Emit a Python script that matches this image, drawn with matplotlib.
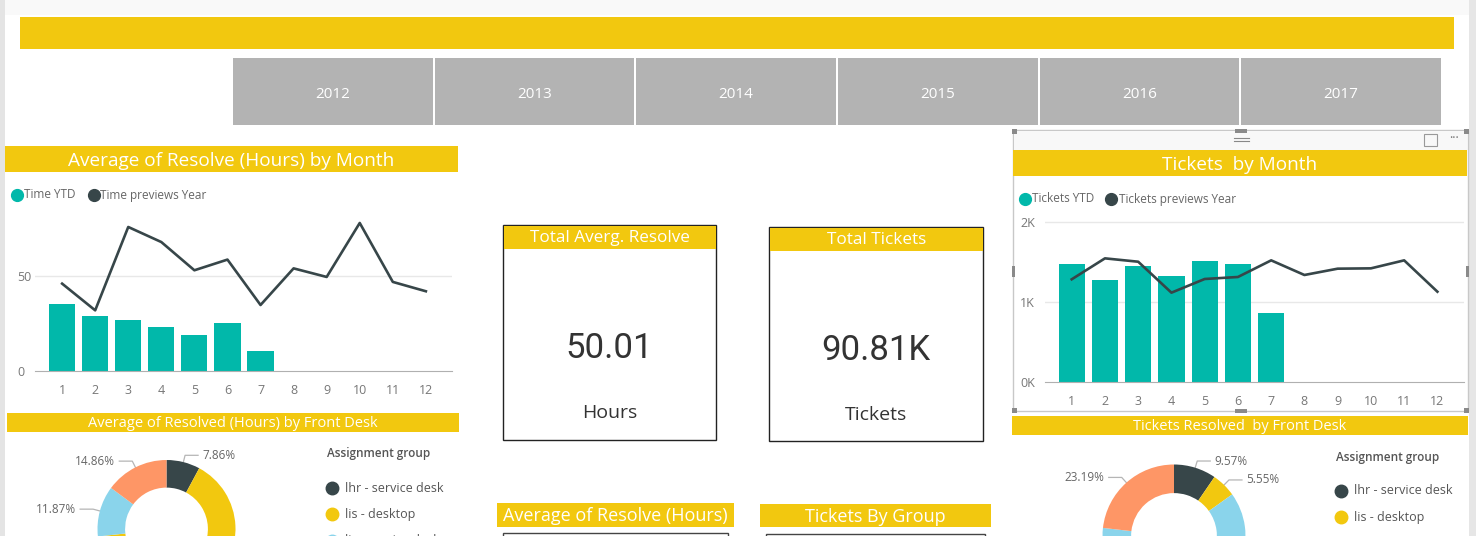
import numpy as np
import matplotlib
matplotlib.use("Agg")
from matplotlib import pyplot as plt
from matplotlib.patches import Rectangle

plt.rcParams['font.family'] = ['Open Sans', 'DejaVu Sans']

# data
years = ['2012', '2013', '2014', '2015', '2016', '2017']
months = list(range(1, 13))
resolve_ytd = [35.3, 28.7, 26.6, 23.1, 18.7, 25.2, 10.5]
resolve_prev = [45.8, 31.8, 75.5, 67.6, 52.8, 58.4, 34.6, 53.8, 49.3, 77.6, 46.7, 41.8]
tickets_ytd = [1471, 1271, 1446, 1321, 1513, 1471, 855]
tickets_prev = [1280, 1542, 1500, 1113, 1284, 1309, 1517, 1334, 1413, 1417, 1517, 1125]
groups = ['lhr - service desk', 'lis - desktop', 'lis - service desk', 'lhr - desktop']
hours_share = [7.86, 65.41, 11.87, 14.86]
tickets_share = [9.57, 5.55, 61.69, 23.19]
total_avg_resolve = '50.01'
total_tickets = '90.81K'

YELLOW = '#F2C80F'
TEAL = '#01B8AA'
DARK = '#374649'
LBLUE = '#8AD4EB'
ORANGE = '#FE9666'
pie_colors = [DARK, YELLOW, LBLUE, ORANGE]

W, H = 1476, 536
fig = plt.figure(figsize=(W / 100, H / 100), dpi=100)
fig.patch.set_facecolor('white')


def px_axes(x0, y0, x1, y1):
    a = fig.add_axes([x0 / W, 1 - y1 / H, (x1 - x0) / W, (y1 - y0) / H])
    a.patch.set_alpha(0)
    return a


# background layer in pixel coords
bg = fig.add_axes([0, 0, 1, 1])
bg.set_xlim(0, W)
bg.set_ylim(H, 0)
bg.axis('off')


def rect(x0, y0, x1, y1, **kw):
    bg.add_patch(Rectangle((x0, y0), x1 - x0, y1 - y0, **kw))


def bar_title(x0, y0, x1, y1, txt, size, dy=1):
    rect(x0, y0, x1, y1, facecolor=YELLOW, edgecolor='none')
    bg.text((x0 + x1) / 2, (y0 + y1) / 2 + dy, txt, color='white', fontsize=size,
            ha='center', va='center')


rect(0, 0, W, 15, facecolor='#f9f9f9', edgecolor='none')
rect(0, 0, 5, H, facecolor='#e4e4e4', edgecolor='none')
rect(1469, 0, W, H, facecolor='#e6e6e6', edgecolor='none')

# header banner + year slicer
rect(20, 17, 1454, 49, facecolor=YELLOW, edgecolor='none')
slot_w = (1442 - 232) / len(years)
for i, yr in enumerate(years):
    x0 = 232 + i * slot_w
    rect(x0 + 1, 58, x0 + slot_w - 1, 125, facecolor='#B3B3B3', edgecolor='none')
    bg.text(x0 + slot_w / 2, 94, yr, color='white', fontsize=11,
            ha='center', va='center')


def legend_row(y, entries):
    for cx, tx, col, lab in entries:
        bg.plot(cx, y, 'o', ms=8.5, color=col)
        bg.text(tx, y, lab, fontsize=8.5, color='#666666', ha='left', va='center')


def month_chart(box, ytd, prev, ylim, yticks, ylabels, xlim, ypad):
    a = px_axes(*box)
    a.bar(months[:len(ytd)], ytd, width=0.79, color=TEAL, zorder=2)
    a.plot(months, prev, color=DARK, lw=1.9, zorder=3)
    a.set_xlim(*xlim)
    a.set_ylim(*ylim)
    for yt in yticks[1:]:
        a.axhline(yt, color='#e8e8e8', lw=1, zorder=0)
    a.set_xticks(months)
    a.set_yticks(yticks)
    a.set_yticklabels(ylabels)
    for s in ['top', 'right', 'left']:
        a.spines[s].set_visible(False)
    a.spines['bottom'].set_color('#b0b0b0')
    a.tick_params(length=0, labelsize=9, labelcolor='#777777')
    a.tick_params(axis='x', pad=9.5)
    a.tick_params(axis='y', pad=ypad)
    for lab in a.get_yticklabels():
        lab.set_horizontalalignment('left')
    return a


# left: average resolve by month
bar_title(5, 146, 458, 172, 'Average of Resolve (Hours) by Month', 13.7, dy=2)
legend_row(195, [(17, 24, TEAL, 'Time YTD'), (94, 100, DARK, 'Time previews Year')])
month_chart((35, 210, 452, 371), resolve_ytd, resolve_prev, (0, 84.4), [0, 50],
            ['0', '50'], (0.18, 12.79), 13)

# right: tickets by month (selected visual)
rect(1013, 130, 1468, 411, facecolor='white', edgecolor='#c8c8c8', lw=1)
rect(1014, 131, 1467, 150, facecolor='#f8f8f8', edgecolor='none')
bg.plot([1234, 1249], [138, 138], color='#888888', lw=0.8)
bg.plot([1234, 1249], [141, 141], color='#888888', lw=0.8)
rect(1424, 134, 1437, 146, facecolor='none', edgecolor='#999999', lw=0.8)
bg.text(1454, 139, '···', fontsize=9, color='#777777', ha='center', va='center')
for hx, hy, hw, hh in [(1012, 129, 5, 5), (1235, 129, 12, 4), (1464, 129, 5, 5),
                       (1012, 266, 3, 11), (1466, 266, 3, 11),
                       (1012, 408, 5, 5), (1235, 409, 12, 4), (1464, 408, 5, 5)]:
    rect(hx, hy, hx + hw, hy + hh, facecolor='#8a8a8a', edgecolor='none')
bar_title(1013, 150, 1467, 176, 'Tickets  by Month', 13.7, dy=2.5)
legend_row(199, [(1025, 1032, TEAL, 'Tickets YTD'), (1111, 1119, DARK, 'Tickets previews Year')])
month_chart((1045, 215, 1464, 381.7), tickets_ytd, tickets_prev, (0, 2084),
            [0, 1000, 2000], ['0K', '1K', '2K'], (0.197, 12.8), 18)

# cards
for (x0, y0, x1, y1), head, val, unit in [((503, 225, 716, 440), 'Total Averg. Resolve', total_avg_resolve, 'Hours'),
                                          ((769, 227, 983, 441), 'Total Tickets', total_tickets, 'Tickets')]:
    rect(x0, y0, x1, y1, facecolor='white', edgecolor='#222222', lw=1)
    bar_title(x0 + 1, y0 + 1, x1, y0 + 24, head, 12.3)
    bg.text((x0 + x1) / 2, y0 + 124, val, fontsize=25, color='#333333',
            family=['Roboto', 'DejaVu Sans'], ha='center', va='center')
    bg.text((x0 + x1) / 2, y0 + 188, unit, fontsize=14, color='#333333', ha='center', va='center')

# lower middle titles
bar_title(497, 503, 734, 527, 'Average of Resolve (Hours)', 13)
rect(503, 533, 728, 560, facecolor='white', edgecolor='#444444', lw=1)
bar_title(760, 504, 991, 527, 'Tickets By Group', 13)
rect(766, 534, 985, 560, facecolor='white', edgecolor='#444444', lw=1)


def donut(cx, cy, r, shares, title_box, title, leg_x, leg_y):
    bar_title(*title_box, title, 10.5)
    a = px_axes(cx - r, cy - r, cx + r, cy + r)
    a.pie(shares, colors=pie_colors, startangle=90, counterclock=False, radius=1,
          wedgeprops=dict(width=0.4, edgecolor='none'))
    a.set_xlim(-1, 1)
    a.set_ylim(-1, 1)
    total = sum(shares)
    cum = 0
    for s in shares:
        th = np.radians(360 * (cum + s / 2) / total)
        cum += s
        ex, ey = cx + r * np.sin(th), cy - r * np.cos(th)
        kx, ky = cx + (r + 7) * np.sin(th), cy - (r + 7) * np.cos(th)
        if ky > H:
            continue  # label falls below the visible canvas
        side = 1 if np.sin(th) >= 0 else -1
        hx = kx + side * 13
        bg.plot([ex, kx, hx], [ey, ky, ky], color='#b5b5b5', lw=0.9)
        bg.text(hx + side * 4, ky, f'{s:.2f}%', fontsize=8.5, color='#666666',
                ha='left' if side > 0 else 'right', va='center')
    bg.text(leg_x - 5, leg_y, 'Assignment group', fontsize=8.5, color='#555555',
            fontweight='semibold', ha='left', va='center')
    for i, g in enumerate(groups):
        yy = leg_y + 34 + i * 26.3
        if yy - 6 > H:
            break
        bg.plot(leg_x, yy, 'o', ms=9, color=pie_colors[i])
        bg.text(leg_x + 13, yy, g, fontsize=9, color='#555555', ha='left', va='center')


donut(166.5, 529, 69, hours_share, (7, 413, 459, 432),
      'Average of Resolved (Hours) by Front Desk', 332, 454)
donut(1174, 536, 71.5, tickets_share, (1012, 416, 1468, 435),
      'Tickets Resolved  by Front Desk', 1341, 457)

fig.savefig('out.png', dpi=100)
